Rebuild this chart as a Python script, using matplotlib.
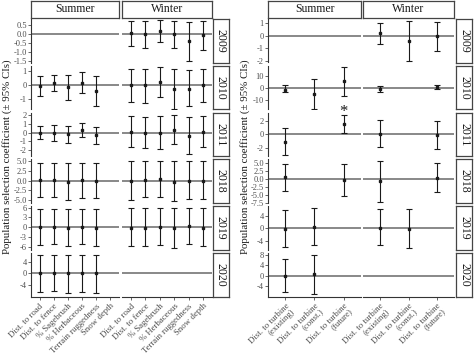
import numpy as np
import matplotlib
matplotlib.use("Agg")
import matplotlib.pyplot as plt

nan = np.nan
plt.rcParams['font.family'] = ['Liberation Serif', 'DejaVu Serif']
plt.rcParams['axes.unicode_minus'] = False

years = ["2009", "2010", "2011", "2018", "2019", "2020"]
seasons = ["Summer", "Winter"]

hab_vars = ["Dist. to road", "Dist. to fence", "% Sagebrush", "% Herbaceous",
            "Terrain ruggedness", "Snow depth"]
turb_vars = ["Dist. to turbine\n(existing)", "Dist. to turbine\n(const.)",
             "Dist. to turbine\n(future)"]

# Habitat model, summer (snow depth not estimated)
hab_sum_est = [[nan]*6,
               [-0.05, 0.17, -0.15, 0.17, -0.44, nan],
               [0.0, -0.07, -0.19, 0.31, -0.34, nan],
               [0.1, 0.1, -0.3, 0.05, 0.0, nan],
               [0.1, 0.2, -0.1, 0.1, -0.2, nan],
               [0.0, 0.2, 0.0, 0.0, 0.0, nan]]
hab_sum_lo = [[nan]*6,
              [-0.74, -0.44, -1.06, -0.59, -1.5, nan],
              [-0.76, -0.92, -1.19, -0.46, -1.34, nan],
              [-4.1, -4.1, -5.0, -4.5, -4.5, nan],
              [-5.2, -5.1, -5.5, -5.0, -5.5, nan],
              [-6.6, -6.2, -6.8, -6.6, -6.8, nan]]
hab_sum_hi = [[nan]*6,
              [0.62, 0.74, 0.74, 0.92, 0.62, nan],
              [0.77, 0.8, 0.73, 1.03, 0.62, nan],
              [4.6, 4.6, 4.6, 4.6, 4.6, nan],
              [5.6, 5.6, 5.6, 5.6, 5.6, nan],
              [6.5, 6.5, 6.5, 6.5, 6.5, nan]]

# Habitat model, winter
hab_win_est = [[0.05, 0.0, 0.18, 0.0, -0.4, -0.07],
               [0.03, 0.0, 0.22, -0.27, -0.25, 0.03],
               [0.04, 0.0, -0.07, 0.34, -0.42, 0.11],
               [-0.1, 0.2, 0.3, -0.3, 0.0, -0.1],
               [-0.1, -0.1, 0.0, -0.3, 0.4, -0.2],
               [nan]*6]
hab_win_lo = [[-0.65, -0.78, -0.46, -0.78, -1.5, -0.87],
              [-1.19, -1.26, -0.84, -1.68, -1.5, -1.19],
              [-1.65, -1.72, -1.88, -1.26, -2.49, -1.65],
              [-5.0, -4.3, -4.1, -5.2, -4.6, -4.8],
              [-5.6, -5.7, -5.3, -6.2, -4.9, -5.7],
              [nan]*6]
hab_win_hi = [[0.73, 0.73, 0.8, 0.73, 0.65, 0.73],
              [1.18, 1.18, 1.28, 1.15, 1.08, 1.18],
              [1.88, 1.8, 1.88, 2.03, 1.77, 1.88],
              [4.9, 4.9, 4.9, 4.9, 4.9, 4.9],
              [5.9, 5.9, 5.9, 5.9, 5.9, 5.9],
              [nan]*6]

# Turbine model, summer
turb_sum_est = [[nan]*3, [-1.1, -4.5, 5.7], [-1.15, nan, 1.5],
                [0.4, nan, -0.3], [-0.3, 0.4, nan], [0.1, 0.6, nan]]
turb_sum_lo = [[nan]*3, [-3.4, -16.8, -6.2], [-3.05, nan, 0.15],
               [-3.9, nan, -5.5], [-5.9, -5.5, nan], [-6.0, -6.9, nan]]
turb_sum_hi = [[nan]*3, [2.3, 7.7, 17.1], [0.85, nan, 2.8],
               [4.7, nan, 4.7], [5.7, 6.3, nan], [6.4, 7.9, nan]]

# Turbine model, winter
turb_win_est = [[0.18, -0.4, -0.05], [-1.0, nan, 1.0], [0.0, nan, -0.1],
                [-0.8, nan, 0.4], [0.1, -0.3, nan], [nan]*3]
turb_win_lo = [[-0.62, -1.97, -1.17], [-3.4, nan, -0.6], [-1.95, nan, -2.15],
               [-7.1, nan, -4.0], [-5.5, -6.3, nan], [nan]*3]
turb_win_hi = [[1.0, 1.17, 1.08], [1.5, nan, 2.8], [2.05, nan, 2.0],
               [5.4, nan, 5.0], [6.0, 6.0, nan], [nan]*3]

hab_ylim = [(-1.58, 0.83), (-1.72, 1.38), (-2.68, 2.26), (-5.7, 5.4), (-6.7, 6.4), (-8.0, 7.1)]
hab_ticks = [[-1.5, -1.0, -0.5, 0.0, 0.5], [-1, 0, 1], [-2, -1, 0, 1, 2],
             [-5.0, -2.5, 0.0, 2.5, 5.0], [-6, -3, 0, 3, 6], [-4, 0, 4]]
hab_fmt = ["%.1f", "%d", "%d", "%.1f", "%d", "%d"]

turb_ylim = [(-2.1, 1.3), (-17.4, 18.5), (-3.25, 3.2), (-7.4, 6.0), (-6.9, 7.0), (-7.9, 8.7)]
turb_ticks = [[-2, -1, 0, 1], [-10, 0, 10], [-2, 0, 2],
              [-7.5, -5.0, -2.5, 0.0, 2.5, 5.0], [-4, 0, 4], [-4, 0, 4, 8]]
turb_fmt = ["%d", "%d", "%d", "%.1f", "%d", "%d"]

W, H = 474, 357
fig = plt.figure(figsize=(W/100, H/100), dpi=100)

def fx(px):
    return px / W

def fy(py):
    return 1 - py / H

top0, pitch, ph = 19.0, 46.8, 43.5
ZERO = '#7f7f7f'
INK = '#1a1a1a'
TICKC = '#4d4d4d'


def strip(x0, y0, x1, y1, text, rot=0):
    ax = fig.add_axes([fx(x0), fy(y1), fx(x1 - x0), (y1 - y0) / H])
    ax.set_xticks([]); ax.set_yticks([])
    for s in ax.spines.values():
        s.set_color('#444444'); s.set_linewidth(0.9)
    ax.set_facecolor('white')
    ax.text(0.5, 0.5, text, transform=ax.transAxes, ha='center', va='center',
            fontsize=8.5, rotation=rot, color='#1a1a1a')


def block(xcols, strip_x, labels, est_s, lo_s, hi_s, ylims, ticks, fmts, ylab_x, hook=None):
    n = len(labels)
    pos = np.arange(1, n + 1)
    for c, (x0, x1) in enumerate(xcols):
        strip(x0, 1, x1, 18, seasons[c])
    for r in range(6):
        ytop = top0 + pitch * r
        ybot = ytop + ph
        strip(strip_x[0], ytop, strip_x[1], ybot, years[r], rot=-90)
        for c, (x0, x1) in enumerate(xcols):
            ax = fig.add_axes([fx(x0), fy(ybot), fx(x1 - x0), ph / H])
            ax.set_xlim(0.4, n + 0.6)
            ax.set_ylim(*ylims[r])
            for s in ax.spines.values():
                s.set_visible(False)
            ax.axhline(0, color=ZERO, lw=1.3, zorder=1)
            est = np.array(est_s[c][r], dtype=float)
            lo = np.array(lo_s[c][r], dtype=float)
            hi = np.array(hi_s[c][r], dtype=float)
            m = ~np.isnan(est)
            if m.any():
                ax.errorbar(pos[m], est[m], yerr=[est[m] - lo[m], hi[m] - est[m]],
                            fmt='s', color=INK, ms=2.1, elinewidth=0.8,
                            capsize=2.0, capthick=0.8, zorder=3)
            if c == 0:
                ax.spines['left'].set_visible(True)
                ax.spines['left'].set_color('#333333')
                ax.spines['left'].set_linewidth(0.8)
                ax.set_yticks(ticks[r])
                ax.set_yticklabels([fmts[r] % t for t in ticks[r]])
                ax.tick_params(axis='y', length=2, width=0.6, color=TICKC,
                               labelsize=6, labelcolor=TICKC, pad=1)
            else:
                ax.set_yticks([])
            if r == 5:
                ax.spines['bottom'].set_visible(True)
                ax.spines['bottom'].set_color('#333333')
                ax.spines['bottom'].set_linewidth(0.8)
                ax.set_xticks(pos)
                ax.set_xticklabels(labels, rotation=45, ha='right',
                                   rotation_mode='anchor', fontsize=6.3,
                                   color=TICKC, linespacing=0.95)
                ax.tick_params(axis='x', length=2, width=0.6, color=TICKC, pad=2)
            else:
                ax.set_xticks([])
            ax.patch.set_alpha(0)
            if hook is not None:
                hook(ax, r, c)
    fig.text(fx(ylab_x), fy(157), "Population selection coefficient (\u00b1 95% CIs)",
             rotation=90, ha='center', va='center', fontsize=7.8, color='#1a1a1a')


block([(31, 119), (122, 212)], (213, 229), hab_vars,
      [hab_sum_est, hab_win_est], [hab_sum_lo, hab_win_lo], [hab_sum_hi, hab_win_hi],
      hab_ylim, hab_ticks, hab_fmt, 7)


def star(ax, r, c):
    if r == 1 and c == 0:
        ax.text(3, -20.0, "*", ha='center', va='center', fontsize=12,
                color=INK, clip_on=False)

block([(268, 361), (363, 454)], (456, 472), turb_vars,
      [turb_sum_est, turb_win_est], [turb_sum_lo, turb_win_lo], [turb_sum_hi, turb_win_hi],
      turb_ylim, turb_ticks, turb_fmt, 245, hook=star)

fig.savefig("out.png", dpi=100, facecolor='white')
